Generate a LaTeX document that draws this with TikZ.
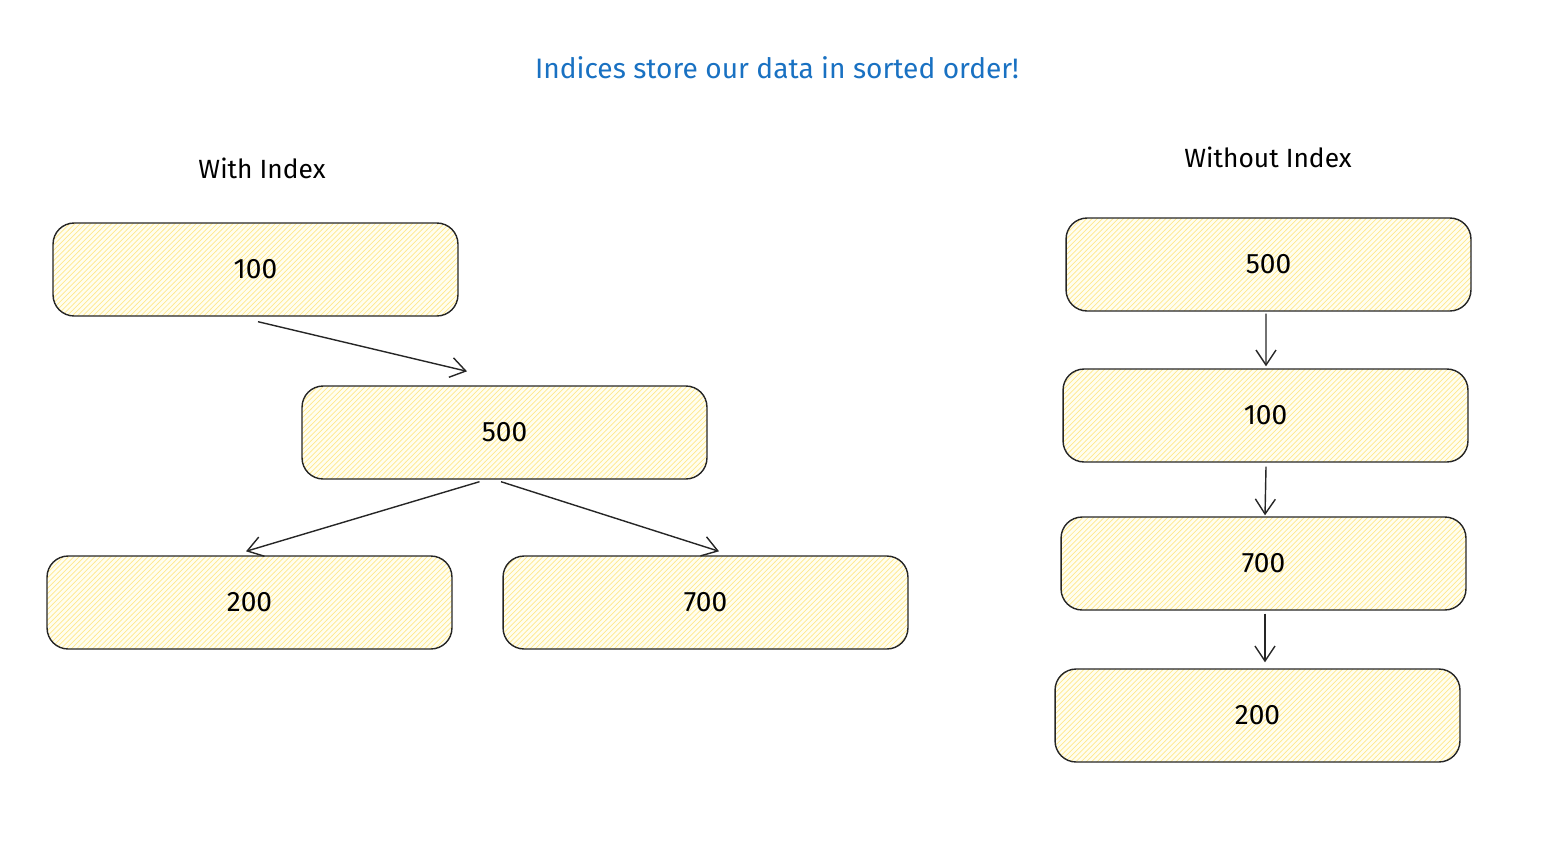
\documentclass[tikz,border=0pt]{standalone}
\usepackage{fontspec}
\setmainfont{Fira Sans}
\usetikzlibrary{patterns, arrows.meta}
\tikzset{>={Straight Barb[length=3mm,width=4mm]}}

\begin{document}
\begin{tikzpicture}[x=0.02cm, y=-0.02cm,
    valbox/.style={rounded corners=12pt, draw=black!85, thick, preaction={fill=yellow!6}, pattern=north east lines, pattern color=yellow!60!orange!45, minimum width=8.1cm, minimum height=1.86cm, font=\fontsize{16}{18}\selectfont},
    heading/.style={font=\fontsize{15}{18}\selectfont},
    link/.style={->, thick, draw=black!85}]
    \useasboundingbox (0,0) rectangle (1550,852);

    %Titles
    \node[font=\fontsize{16}{18}\selectfont, text={rgb,255:red,25;green,113;blue,194}](title) at (777,68){Indices store our data in sorted order!};
    \node[heading](with) at (262,168){With Index};
    \node[heading](without) at (1268,157){Without Index};

    %With index
    \node[valbox](w100) at (255.5,269.5){100};
    \node[valbox](w500) at (504.5,432.5){500};
    \node[valbox](w200) at (249.5,602.5){200};
    \node[valbox](w700) at (705.5,602.5){700};

    %Without index
    \node[valbox](n500) at (1268.5,264.5){500};
    \node[valbox](n100) at (1265.5,415.5){100};
    \node[valbox](n700) at (1263.5,563.5){700};
    \node[valbox](n200) at (1257.5,715.5){200};

    %Lines
    \draw[link] ([shift={(2.5,5)}]w100.south) -- ([shift={(-37.5,-14)}]w500.north);
    \draw[link] ([shift={(-25,2)}]w500.south) -- ([shift={(-3.5,-4)}]w200.north);
    \draw[link] ([shift={(-3.5,2)}]w500.south) -- ([shift={(13.5,-4)}]w700.north);
    \draw[link] ([shift={(-2.5,2)}]n500.south) -- ([shift={(0.5,-2)}]n100.north);
    \draw[link] ([shift={(0.5,4)}]n100.south) -- ([shift={(1.5,-1)}]n700.north);
    \draw[link] ([shift={(1.5,3)}]n700.south) -- ([shift={(7.5,-6)}]n200.north);
\end{tikzpicture}
\end{document}
